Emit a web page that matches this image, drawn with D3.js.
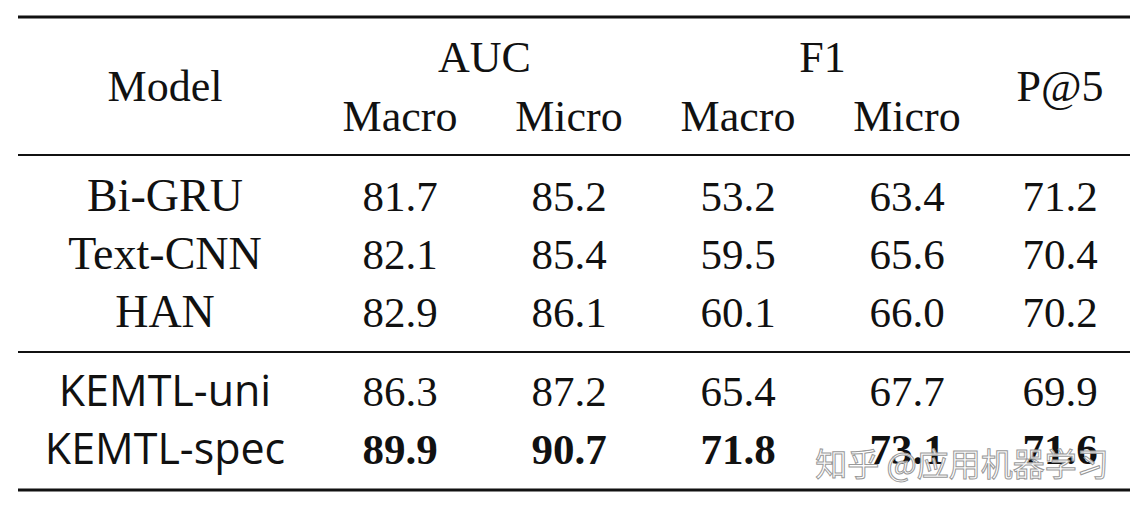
<!DOCTYPE html>
<html><head><meta charset="utf-8">
<script src="https://cdn.jsdelivr.net/npm/d3@7"></script>
<style>body{margin:0;background:#fff}</style>
</head><body>
<svg id="t" width="1148" height="512"></svg>
<script>
var columns = ['Model', 'AUC Macro', 'AUC Micro', 'F1 Macro', 'F1 Micro', 'P@5'];
var models = ['Bi-GRU', 'Text-CNN', 'HAN', 'KEMTL-uni', 'KEMTL-spec'];
var aucMacro = [81.7, 82.1, 82.9, 86.3, 89.9];
var aucMicro = [85.2, 85.4, 86.1, 87.2, 90.7];
var f1Macro = [53.2, 59.5, 60.1, 65.4, 71.8];
var f1Micro = [63.4, 65.6, 66.0, 67.7, 73.1];
var p5 = [71.2, 70.4, 70.2, 69.9, 71.6];
var boldRow = 'KEMTL-spec';

var svg = d3.select('#t');
var serif = "'Liberation Serif', 'DejaVu Serif', serif";
var sans = "'Open Sans', 'DejaVu Sans', sans-serif";

// column centres
var x = d3.scaleOrdinal().domain(columns).range([165, 400, 569, 738, 907, 1060]);
// row baselines
var y = d3.scaleOrdinal().domain(models).range([211, 269, 327, 406, 464]);

function rule(yy, w) {
  svg.append('line').attr('x1', 18).attr('x2', 1130).attr('y1', yy).attr('y2', yy)
    .attr('stroke', '#111').attr('stroke-width', w);
}
rule(17, 3); rule(155, 2); rule(352, 2); rule(490, 3);

function txt(s, cx, cy, opts) {
  opts = opts || {};
  return svg.append('text').attr('x', cx).attr('y', cy).attr('text-anchor', 'middle')
    .attr('font-family', opts.font || serif).attr('font-size', opts.size || 43)
    .attr('font-weight', opts.bold ? 'bold' : 'normal').attr('fill', '#111').text(s);
}

// header
txt('Model', x('Model'), 101, { size: 44 });
txt('AUC', (x('AUC Macro') + x('AUC Micro')) / 2, 72, { size: 44 });
txt('F1', (x('F1 Macro') + x('F1 Micro')) / 2, 72, { size: 44 });
txt('P@5', x('P@5'), 101, { size: 44 });
['AUC Macro', 'AUC Micro', 'F1 Macro', 'F1 Micro'].forEach(function (c) {
  txt(c.split(' ')[1], x(c), 131, { size: 44 });
});

// body
var series = [aucMacro, aucMicro, f1Macro, f1Micro, p5];
models.forEach(function (m, i) {
  var b = m === boldRow;
  var k = m.indexOf('KEMTL') === 0;
  txt(m, x('Model'), y(m), { font: k ? sans : serif, size: k ? 43 : 46 });
  series.forEach(function (s, j) {
    txt(s[i].toFixed(1), x(columns[j + 1]), y(m), { bold: b });
  });
});

// watermark
svg.append('text').attr('x', 962).attr('y', 476).attr('text-anchor', 'middle')
  .attr('font-family', "'Noto Sans CJK SC', sans-serif").attr('font-size', 32)
  .attr('fill', '#fff').attr('fill-opacity', 0.85).attr('stroke', '#999').attr('stroke-width', 1)
  .text('知乎 @应用机器学习');
</script>
</body></html>
